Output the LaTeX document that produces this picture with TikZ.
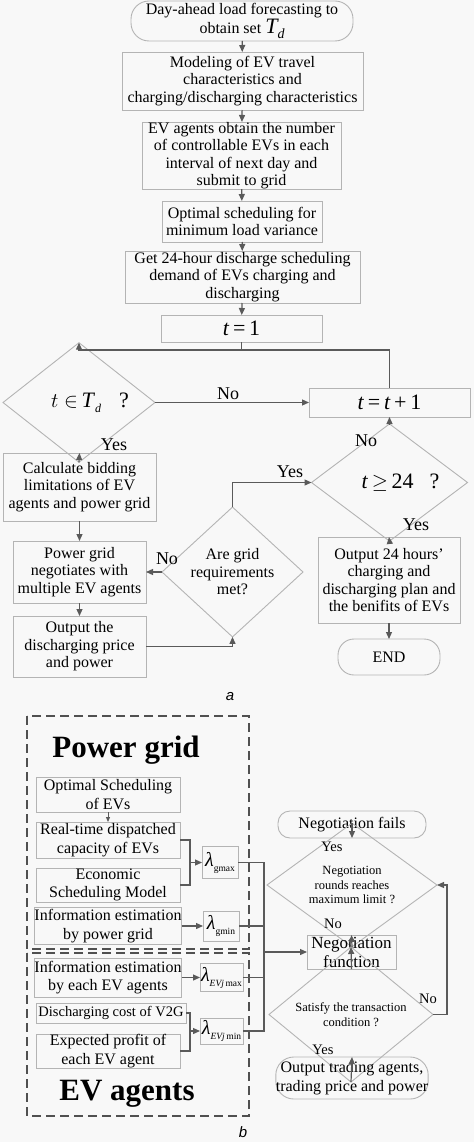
\documentclass[tikz,border=0pt]{standalone}
\usepackage{fontspec}
\setmainfont{Liberation Serif}
\newfontfamily\capsans{Liberation Sans}
\usetikzlibrary{shapes.geometric,arrows.meta}
\definecolor{bgc}{HTML}{F8F8F8}
\definecolor{boxc}{HTML}{B4B4B4}
\definecolor{linec}{HTML}{5A5A5A}
\definecolor{dashc}{HTML}{505050}
\newcommand\lbox[1]{{\fontsize{20}{20}\selectfont\itshape λ}\raisebox{-5pt}{\fontsize{9.5}{9.5}\selectfont #1}}
\begin{document}
\begin{tikzpicture}[x=1pt,y=-1pt,
  every node/.style={inner sep=0pt, outer sep=0pt},
  box/.style={draw=boxc, line width=0.9pt, rectangle, align=center, font=\fontsize{16}{17.5}\selectfont},
  boxb/.style={box, font=\fontsize{16}{18.5}\selectfont},
  term/.style={box, rounded corners=#1},
  dia/.style={draw=boxc, line width=0.9pt, diamond, align=center},
  conn/.style={draw=linec, line width=1.2pt},
  arr/.style={conn, -{Triangle[length=7pt,width=6pt]}},
  lab/.style={font=\fontsize{18}{18}\selectfont},
  labb/.style={font=\fontsize{14.5}{14.5}\selectfont},
  grp/.style={draw=dashc, line width=1.4pt, dash pattern=on 9pt off 5pt},
  big/.style={font=\fontsize{31}{31}\selectfont\bfseries, anchor=base},
  captext/.style={font=\fontsize{15}{15}\selectfont\capsans\itshape},
]
\path[use as bounding box, fill=bgc] (0,0) rectangle (474,1142);

% ---------------- part a ----------------
\node[term=18pt, minimum width=222, minimum height=40] (start) at (242,21)
  {Day-ahead load forecasting to\\obtain set {\fontsize{22}{17.5}\selectfont\itshape T}\raisebox{-5pt}{\fontsize{14}{14}\selectfont\itshape d}};
\node[box, minimum width=241, minimum height=58] (model) at (242.5,81)
  {Modeling of EV travel\\characteristics and\\charging/discharging characteristics};
\node[box, minimum width=199, minimum height=65] (agents) at (241.5,155.5)
  {EV agents obtain the number\\of controllable EVs in each\\interval of next day and\\submit to grid};
\node[box, minimum width=160, minimum height=41] (optim) at (242,221.5)
  {Optimal scheduling for\\minimum load variance};
\node[box, minimum width=235, minimum height=52] (get24) at (242.5,277)
  {Get 24-hour discharge scheduling\\demand of EVs charging and\\discharging};
\node[box, minimum width=161, minimum height=27, font=\fontsize{22}{22}\selectfont] (t1) at (241.5,328.5)
  {\textit{t}\,=\,1};
\coordinate (jl) at (79,350);

\node[dia, minimum width=152, minimum height=81, font=\fontsize{22}{22}\selectfont] (d1) at (79,402.5)
  {\hspace*{22pt}$t\in$\,\textit{T}\raisebox{-5pt}{\fontsize{12}{12}\selectfont\itshape d}\hspace{18pt}?};
\node[box, minimum width=161, minimum height=29, font=\fontsize{22}{22}\selectfont] (tt) at (389.5,402.5)
  {\textit{t}\,=\,\textit{t}\,+\,1};
\node[dia, minimum width=156, minimum height=79, font=\fontsize{22}{22}\selectfont] (d2) at (389.5,482.5)
  {\hspace*{22pt}\textit{t}\,$\geq$\,24\hspace{16pt}?};
\node[box, minimum width=142, minimum height=86] (out) at (389,580)
  {Output 24 hours’\\charging and\\discharging plan and\\the benifits of EVs};
\node[term=16pt, minimum width=102, minimum height=36] (end) at (389,657) {END};

\node[box, minimum width=153, minimum height=68] (calc) at (79.5,487)
  {Calculate bidding\\limitations of EV\\agents and power grid};
\node[box, minimum width=133, minimum height=62] (neg) at (79.5,572)
  {Power grid\\negotiates with\\multiple EV agents};
\node[box, minimum width=133, minimum height=61] (outp) at (79.5,646.5)
  {Output the\\discharging price\\and power};
\node[dia, minimum width=141, minimum height=80, font=\fontsize{16}{17.5}\selectfont] (d3) at (232.5,572)
  {Are grid\\requirements\\met?};

\draw[arr] (start) -- (model);
\draw[arr] (model) -- (agents);
\draw[arr] (agents) -- (optim);
\draw[arr] (optim) -- (get24);
\draw[arr] (get24) -- (t1);
\draw[conn] (t1.south) -- (t1.south |- jl);
\draw[arr] (tt.north) |- (jl) -- (d1.north);
\draw[arr] (d1.east) -- (tt.west);
\draw[arr] (d1.south) -- (calc.north);
\draw[arr] (calc) -- (neg);
\draw[arr] (neg) -- (outp);
\draw[arr] (outp.east) -| (d3.south);
\draw[arr] (d3.west) -- (neg.east);
\draw[arr] (d3.north) |- (d2.west);
\draw[arr] (d2.north) -- (tt.south);
\draw[arr] (d2.south) -- (out.north);
\draw[arr] (out) -- (end);

\node[lab] (l1) at (228,394) {No};
\node[lab] (l2) at (114,445) {Yes};
\node[lab] (l3) at (366,441) {No};
\node[lab] (l4) at (290,472) {Yes};
\node[lab] (l5) at (416,525) {Yes};
\node[lab] (l6) at (167,559) {No};
\node[captext] (capa) at (230,697) {a};

% ---------------- part b ----------------
\draw[grp] (27,716) rectangle (249,949);
\draw[grp] (27,953) rectangle (249,1116);
\node[big] (pg) at (126,757) {Power grid};
\node[big] (eva) at (127,1100) {EV agents};

\node[boxb, minimum width=144, minimum height=35] (os) at (108,794.5) {Optimal Scheduling\\of EVs};
\node[boxb, minimum width=144, minimum height=36] (rt) at (108,840) {Real-time dispatched\\capacity of EVs};
\node[boxb, minimum width=144, minimum height=34] (ec) at (108,885) {Economic\\Scheduling Model};
\node[boxb, minimum width=144, minimum height=37] (ig) at (108,926) {Information estimation\\by power grid};
\node[boxb, minimum width=144, minimum height=39] (ie) at (108,977.5) {Information estimation\\by each EV agents};
\node[boxb, minimum width=150, minimum height=20, font=\fontsize{14.5}{16}\selectfont] (dc) at (111,1013) {Discharging cost of V2G};
\node[boxb, minimum width=144, minimum height=34] (ep) at (108,1051) {Expected profit of\\each EV agent};

\coordinate (brg) at (190,862.5);
\coordinate (bre) at (190,1031);
\node[box, minimum width=36, minimum height=32] (lgmax) at (220,862.5) {\lbox{gmax}};
\node[box, minimum width=36, minimum height=30] (lgmin) at (221,926) {\lbox{gmin}};
\node[box, minimum width=43, minimum height=28] (lemax) at (221.5,977.5) {\lbox{\textit{EVj}\,max}};
\node[box, minimum width=43, minimum height=26] (lemin) at (221.5,1031) {\lbox{\textit{EVj}\,min}};

\draw[arr, line width=0.8pt, -{Triangle[length=5pt,width=4pt]}] (os) -- (rt);
\draw[conn] (rt.east) -| (brg) |- (ec.east);
\draw[arr] (brg) -- (lgmax.west);
\draw[arr] (ig) -- (lgmin);
\draw[arr] (ie) -- (lemax);
\draw[conn] (dc.east) -| (bre) |- (ep.east);
\draw[arr] (bre) -- (lemin.west);

\node[term=12pt, minimum width=148, minimum height=27] (nfail) at (352,824.5) {Negotiation fails};
\node[dia, minimum width=170, minimum height=66, font=\fontsize{12.5}{14.5}\selectfont] (d4) at (352,885)
  {Negotiation\\rounds reaches\\maximum limit ?};
\node[boxb, minimum width=89, minimum height=34, font=\fontsize{17}{19}\selectfont] (nf) at (351.5,952) {Negotiation\\function};
\node[dia, minimum width=164, minimum height=63, font=\fontsize{12.5}{15}\selectfont] (d5) at (351,1014.5)
  {Satisfy the transaction\\condition ?};
\node[term=18pt, minimum width=148, minimum height=42, font=\fontsize{16}{18.5}\selectfont] (otr) at (352,1078)
  {Output trading agents,\\trading price and power};

\coordinate (bt) at (264,862.5);
\coordinate (bb) at (264,1031);
\draw[conn] (lgmax.east) -- (bt) -- (bb) -- (lemin.east);
\draw[conn] (lgmin.east) -- (lgmin.east -| bt);
\draw[conn] (lemax.east) -- (lemax.east -| bt);
\draw[arr] (bt |- nf.west) -- (nf.west);
\draw[arr] (d4.north) -- (nfail.south);
\draw[arr] (d4.south) -- (nf.north);
\draw[arr] (nf.south) -- (d5.north);
\draw[arr] (d5.east) -- ++(14,0) |- (d4.east);
\draw[arr] (d5.south) -- (otr.north);

\node[labb] (m1) at (332,847) {Yes};
\node[labb] (m2) at (333,924) {No};
\node[labb] (m3) at (428,999) {No};
\node[labb] (m4) at (323,1050) {Yes};
\node[captext] (capb) at (243,1132) {b};
\end{tikzpicture}
\end{document}
